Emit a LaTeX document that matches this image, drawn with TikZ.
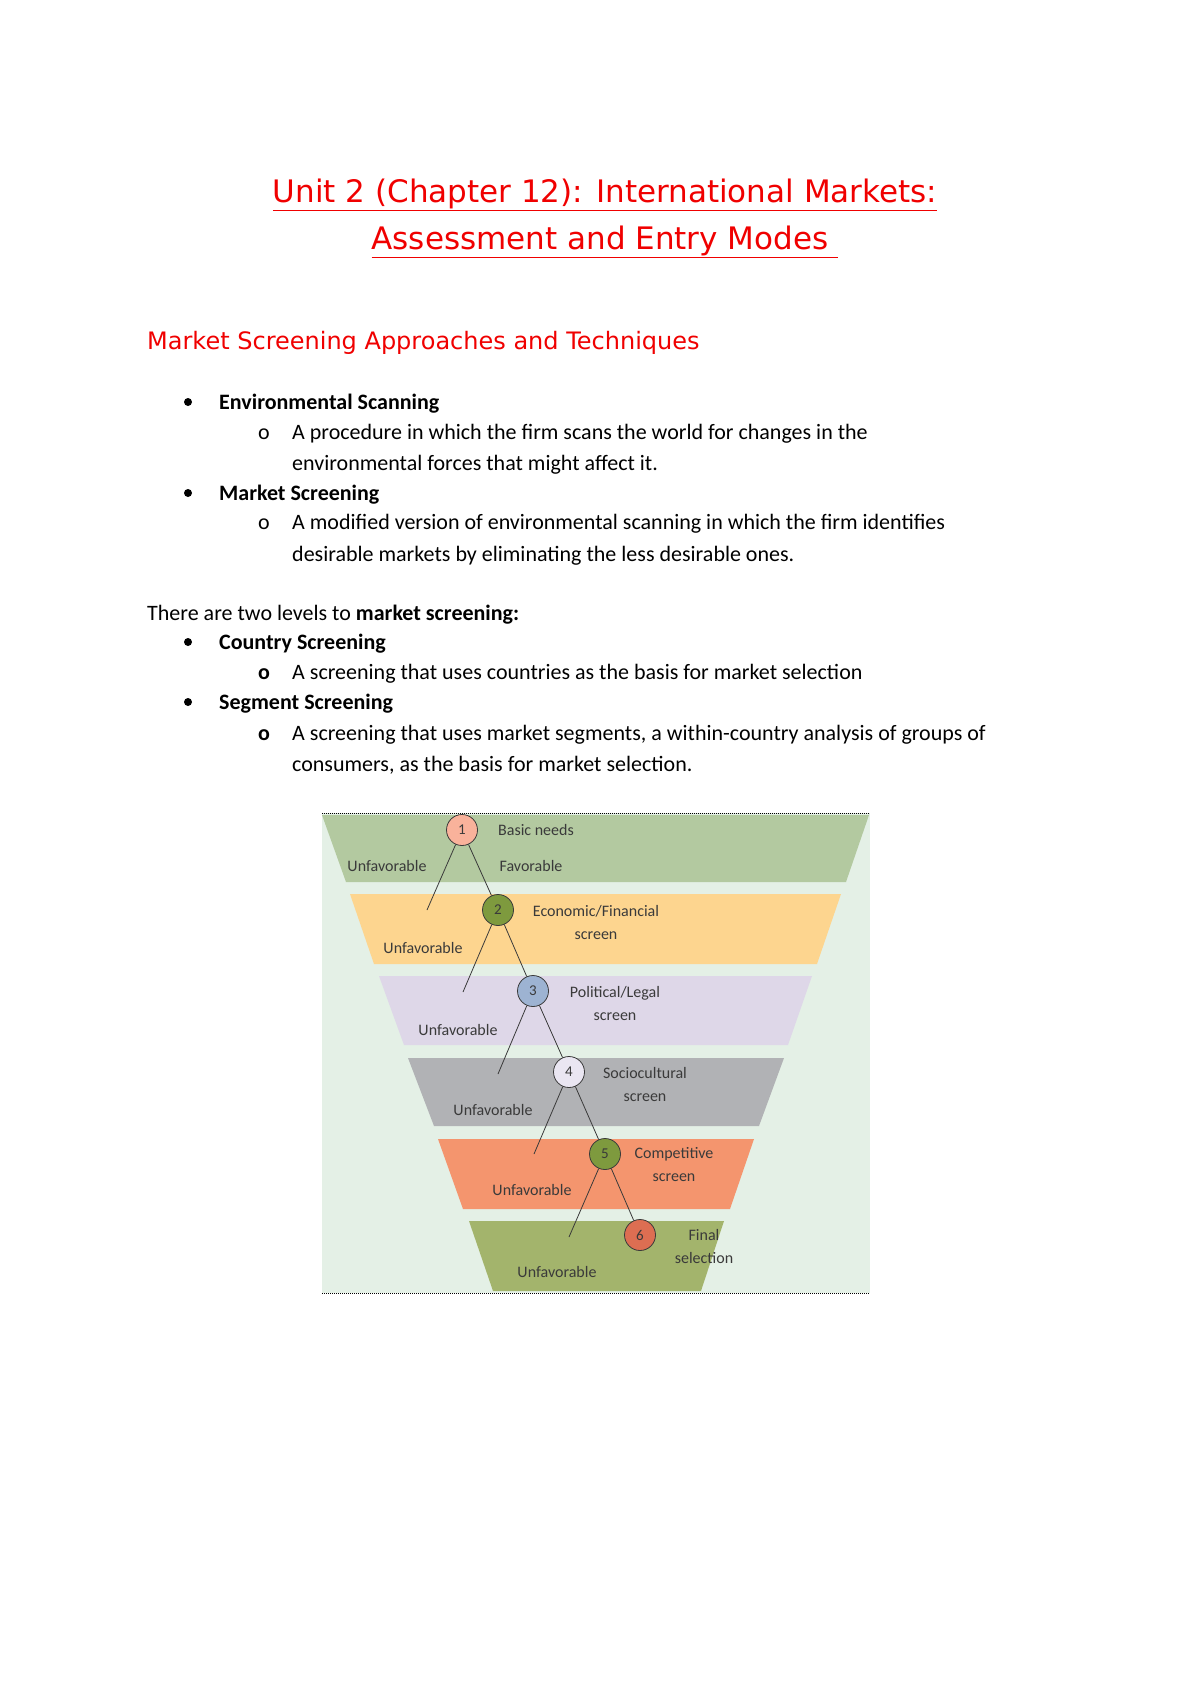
\documentclass[tikz,border=0pt]{standalone}
\usepackage{fontspec}
\setmainfont{Carlito}
\newfontfamily\dejavu{DejaVu Sans}
\definecolor{tred}{HTML}{F00000}
\definecolor{bgc}{HTML}{E4F0E6}
\definecolor{bA}{HTML}{B3C9A0}
\definecolor{bB}{HTML}{FDD58F}
\definecolor{bC}{HTML}{DED7E8}
\definecolor{bD}{HTML}{B1B2B5}
\definecolor{bE}{HTML}{F4956E}
\definecolor{bF}{HTML}{A3B46C}
\definecolor{cA}{HTML}{F9B29B}
\definecolor{cB}{HTML}{7E9A3E}
\definecolor{cC}{HTML}{9DB3D2}
\definecolor{cD}{HTML}{EAE6F2}
\definecolor{cF}{HTML}{DD6E52}
\definecolor{dtxt}{HTML}{3A3A3A}
\begin{document}
\begin{tikzpicture}[x=1pt,y=-1pt,
  body/.style={anchor=base west,inner sep=0,font=\fontsize{22}{30}\selectfont},
  bul/.style={circle,fill=black,inner sep=0,minimum size=8},
  sub/.style={anchor=base west,inner sep=0,font=\fontsize{22}{30}\selectfont},
  step6/.style={circle,draw=dtxt,line width=0.8,minimum size=31,inner sep=0,font=\fontsize{15}{15}\selectfont\color{dtxt}},
  lbl/.style={inner sep=0,font=\fontsize{16}{23}\selectfont\color{dtxt},align=center},
  branch/.style={draw=dtxt,line width=0.8}]
\useasboundingbox (0,0) rectangle (1200,1698);
\fill[white] (0,0) rectangle (1200,1698);
% title
\node[anchor=base,inner sep=0,text=tred,font=\dejavu\fontsize{31}{40}\selectfont] (t1) at (605,202) {\underline{Unit 2 (Chapter 12): International Markets:}};
\node[anchor=base,inner sep=0,text=tred,font=\dejavu\fontsize{31}{40}\selectfont] (t2) at (605,249) {\underline{Assessment and Entry Modes\ }};
\node[anchor=base west,inner sep=0,text=tred,font=\dejavu\fontsize{24}{30}\selectfont] (h1) at (147,349) {Market Screening Approaches and Techniques};
% bullets
\node[bul] (b1) at (188,402) {}; \node[body] (e1) at (219,409) {\textbf{Environmental Scanning}};
\node[sub] (o1) at (258,439) {o}; \node[body] (e1a) at (292,439) {A procedure in which the firm scans the world for changes in the};
\node[body] (e1b) at (292,470) {environmental forces that might affect it.};
\node[bul] (b2) at (188,493) {}; \node[body] (e2) at (219,500) {\textbf{Market Screening}};
\node[sub] (o2) at (258,529) {o}; \node[body] (e2a) at (292,529) {A modified version of environmental scanning in which the firm identifies};
\node[body] (e2b) at (292,561) {desirable markets by eliminating the less desirable ones.};
\node[body] (p) at (147,620) {There are two levels to \textbf{market screening:}};
\node[bul] (b3) at (188,642) {}; \node[body] (e3) at (219,649) {\textbf{Country Screening}};
\node[sub] (o3) at (258,679) {\textbf{o}}; \node[body] (e3a) at (292,679) {A screening that uses countries as the basis for market selection};
\node[bul] (b4) at (188,702) {}; \node[body] (e4) at (219,709) {\textbf{Segment Screening}};
\node[sub] (o4) at (258,740) {\textbf{o}}; \node[body] (e4a) at (292,740) {A screening that uses market segments, a within-country analysis of groups of};
\node[body] (e4b) at (292,771) {consumers, as the basis for market selection.};
% diagram
\fill[bgc] (322,813) rectangle (870,1293);
\draw[densely dotted,line width=1] (322,813) -- (870,813);
\draw[densely dotted,line width=1] (322,1293) -- (870,1293);
\fill[bA] (322,815) -- (869,815) -- (846,882) -- (346,882) -- cycle;
\fill[bB] (350,894) -- (841,894) -- (817,964) -- (374,964) -- cycle;
\fill[bC] (379,976) -- (812,976) -- (788,1045) -- (404,1045) -- cycle;
\fill[bD] (408,1058) -- (784,1058) -- (759,1126) -- (434,1126) -- cycle;
\fill[bE] (438,1139) -- (754,1139) -- (730,1209) -- (463,1209) -- cycle;
\fill[bF] (469,1221) -- (724,1221) -- (701,1291) -- (493,1291) -- cycle;
\node[step6,fill=cA] (s1) at (462,830) {1};
\node[step6,fill=cB] (s2) at (498,910) {2};
\node[step6,fill=cC] (s3) at (533,991) {3};
\node[step6,fill=cD] (s4) at (569,1072) {4};
\node[step6,fill=cB] (s5) at (605,1154) {5};
\node[step6,fill=cF] (s6) at (640,1235) {6};
\coordinate (u1) at (427,910);
\coordinate (u2) at (463,992);
\coordinate (u3) at (498,1074);
\coordinate (u4) at (534,1154);
\coordinate (u5) at (569,1237);
\path[branch] (s1) -- (s2) (s2) -- (s3) (s3) -- (s4) (s4) -- (s5) (s5) -- (s6);
\path[branch] (s1) -- (u1) (s2) -- (u2) (s3) -- (u3) (s4) -- (u4) (s5) -- (u5);
\node[lbl] (l1) at (536,830) {Basic needs};
\node[lbl] (l1u) at (387,866) {Unfavorable};
\node[lbl] (l1f) at (531,866) {Favorable};
\node[lbl] (l2) at (596,922) {Economic/Financial\\screen};
\node[lbl] (l2u) at (423,948) {Unfavorable};
\node[lbl] (l3) at (615,1003) {Political/Legal\\screen};
\node[lbl] (l3u) at (458,1030) {Unfavorable};
\node[lbl] (l4) at (645,1084) {Sociocultural\\screen};
\node[lbl] (l4u) at (493,1110) {Unfavorable};
\node[lbl] (l5) at (674,1165) {Competitive\\screen};
\node[lbl] (l5u) at (532,1190) {Unfavorable};
\node[lbl] (l6) at (704,1246) {Final\\selection};
\node[lbl] (l6u) at (557,1272) {Unfavorable};
\end{tikzpicture}
\end{document}
